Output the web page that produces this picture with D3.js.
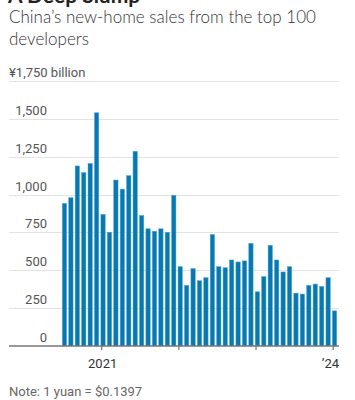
<!DOCTYPE html>
<html>
<head>
<meta charset="utf-8">
<script src="https://cdn.jsdelivr.net/npm/d3@7"></script>
<style>
  html, body { margin: 0; padding: 0; background: #fff; }
  svg { display: block; }
</style>
</head>
<body>
<svg id="chart" width="355" height="400"></svg>
<script>
// Monthly sales, top 100 developers, ¥ billion (Jul 2020 – Jan 2024)
const months = [
  "2020-07","2020-08","2020-09","2020-10","2020-11","2020-12",
  "2021-01","2021-02","2021-03","2021-04","2021-05","2021-06",
  "2021-07","2021-08","2021-09","2021-10","2021-11","2021-12",
  "2022-01","2022-02","2022-03","2022-04","2022-05","2022-06",
  "2022-07","2022-08","2022-09","2022-10","2022-11","2022-12",
  "2023-01","2023-02","2023-03","2023-04","2023-05","2023-06",
  "2023-07","2023-08","2023-09","2023-10","2023-11","2023-12",
  "2024-01"
];
const sales = [
  942, 979, 1189, 1145, 1205, 1540,
  869, 751, 1096, 1036, 1125, 1286,
  862, 774, 758, 774, 751, 995,
  524, 400, 511, 431, 451, 736,
  524, 517, 568, 555, 562, 678,
  358, 458, 665, 568, 489, 524,
  349, 343, 400, 409, 393, 451,
  232
];
const yTicks = [0, 250, 500, 750, 1000, 1250, 1500, 1750];
const xTickMonths = ["2021-01", "2022-01", "2023-01", "2024-01"];
const xTickLabels = ["2021", "", "", "’24"];

const svg = d3.select("#chart");
const numFont = "'Liberation Sans Narrow', 'Roboto', sans-serif";
const textFont = "'Lato', 'Noto Sans', sans-serif";

const x = d3.scaleBand().domain(months).range([62.3, 336.7]).paddingInner(0.33).paddingOuter(0);
const y = d3.scaleLinear().domain([0, 1750]).range([346, 81]);

// Title (clipped at top)
svg.append("text").attr("x", 8).attr("y", 3)
  .attr("font-family", textFont).attr("font-weight", 700).attr("font-size", 21)
  .attr("fill", "#222").text("A Deep Slump");

svg.append("text").attr("x", 9).attr("y", 23)
  .attr("font-family", textFont).attr("font-weight", 300).attr("font-size", 17)
  .attr("fill", "#333").text("China’s new-home sales from the top 100");
svg.append("text").attr("x", 9).attr("y", 45)
  .attr("font-family", textFont).attr("font-weight", 300).attr("font-size", 17)
  .attr("fill", "#333").text("developers");

// Gridlines
const grid = svg.append("g");
grid.selectAll("line").data(yTicks.filter(d => d > 0)).join("line")
  .attr("x1", 9).attr("x2", 339)
  .attr("y1", d => Math.round(y(d)) + 0.5).attr("y2", d => Math.round(y(d)) + 0.5)
  .attr("stroke", "#e3e3e3").attr("stroke-width", 1);

// Y labels
const yl = svg.append("g");
yTicks.forEach(d => {
  const t = yl.append("text").attr("y", y(d) - 4)
    .attr("font-family", numFont).attr("font-size", 13).attr("fill", "#555");
  if (d === 1750) {
    t.attr("x", 9).attr("text-anchor", "start").text("¥" + d3.format(",")(d) + " billion");
  } else {
    t.attr("x", 47).attr("text-anchor", "end").text(d3.format(",")(d));
  }
});

// Bars
svg.append("g").selectAll("rect").data(months).join("rect")
  .attr("x", d => x(d))
  .attr("width", x.bandwidth())
  .attr("y", (d, i) => y(sales[i]))
  .attr("height", (d, i) => y(0) - y(sales[i]))
  .attr("fill", "#0579b0")
  .attr("stroke", "#4ea3cf").attr("stroke-width", 0.5);

// Baseline
svg.append("line").attr("x1", 9).attr("x2", 339)
  .attr("y1", y(0)).attr("y2", y(0))
  .attr("stroke", "#777").attr("stroke-width", 1.5);

// X ticks
const xt = svg.append("g");
xTickMonths.forEach((m, i) => {
  const px = x(m) + 0.8;
  xt.append("line").attr("x1", px).attr("x2", px).attr("y1", y(0)).attr("y2", y(0) + 4)
    .attr("stroke", "#777").attr("stroke-width", 1.2);
  if (xTickLabels[i]) {
    xt.append("text").attr("x", i === 3 ? 339 : px + 1).attr("y", 368)
      .attr("text-anchor", i === 3 ? "end" : "middle")
      .attr("font-family", numFont).attr("font-size", 13).attr("fill", "#333")
      .text(xTickLabels[i]);
  }
});

// Note
svg.append("text").attr("x", 9).attr("y", 396)
  .attr("font-family", numFont).attr("font-size", 13).attr("fill", "#666")
  .text("Note: 1 yuan = $0.1397");
</script>
</body>
</html>
